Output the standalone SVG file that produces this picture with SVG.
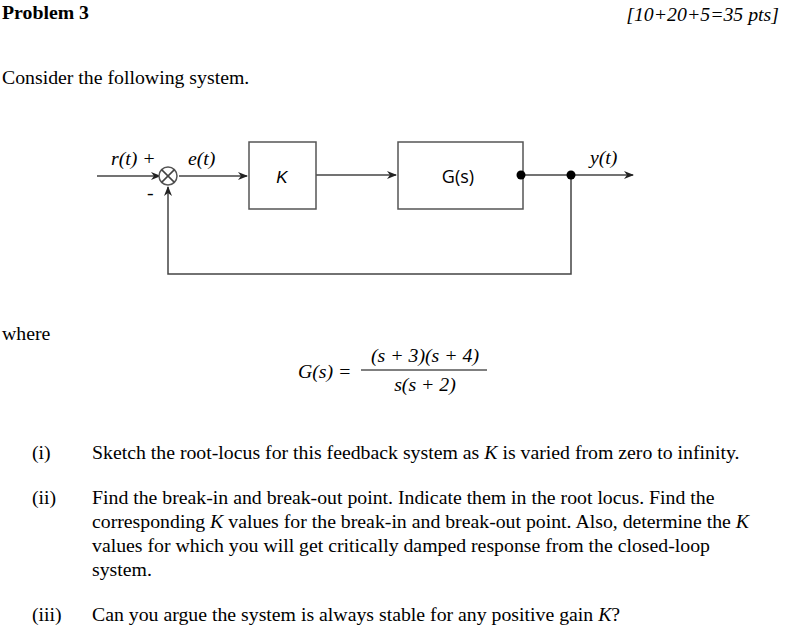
<svg xmlns="http://www.w3.org/2000/svg" width="786" height="632" viewBox="0 0 786 632">
<defs><marker id="a" markerWidth="10" markerHeight="8" refX="9" refY="4" orient="auto" markerUnits="userSpaceOnUse"><path d="M0,0 L10,4 L0,8 L3,4 Z" fill="#222"/></marker></defs>
<style>
.t{font-family:"Liberation Serif",serif;font-size:19.8px;fill:#000}
.i{font-style:italic}
.l{stroke:#444;stroke-width:1.5;fill:none}
.b{stroke:#555;stroke-width:1.5;fill:#fff}
</style>
<rect width="786" height="632" fill="#fff"/>
<text class="t" x="2" y="19" font-weight="bold">Problem 3</text>
<text class="t i" x="779" y="21" text-anchor="end" font-size="17">[10+20+5=35 pts]</text>
<text class="t" x="2" y="84">Consider the following system.</text>
<g id="connectors">
<path class="l" d="M97,176 H160" marker-end="url(#a)"/>
<path class="l" d="M179,176 H247" marker-end="url(#a)"/>
<path class="l" d="M316,175 H396" marker-end="url(#a)"/>
<path class="l" d="M523,175 H633" marker-end="url(#a)"/>
<path class="l" d="M571,175 V274 H168 V187" marker-end="url(#a)"/>
</g>
<g id="sum"><circle cx="168" cy="176" r="9" class="b"/><path class="l" d="M161.6,169.6 L174.4,182.4 M174.4,169.6 L161.6,182.4"/></g>
<g id="K"><rect x="249" y="142" width="67" height="67" class="b"/><text x="282" y="183" text-anchor="middle" font-family="Liberation Sans,sans-serif" font-style="italic" font-size="17">K</text></g>
<g id="G"><rect x="398" y="142" width="125" height="67" class="b"/><text x="458" y="183" text-anchor="middle" font-family="Open Sans,sans-serif" font-size="18">G(s)</text></g>
<circle cx="521" cy="175" r="4.5" fill="#000"/><circle cx="571" cy="175" r="4.5" fill="#000"/>
<text class="t i" x="111" y="165" font-size="16.5">r(t) +</text>
<text class="t i" x="188" y="165" font-size="16.5">e(t)</text>
<text class="t" x="147" y="199" font-size="16">-</text>
<text class="t i" x="590" y="164" font-size="16.5">y(t)</text>
<text class="t" x="2" y="340">where</text>
<text class="t i" x="298" y="378" font-size="20.5">G(s) =</text>
<text class="t i" x="425" y="362" text-anchor="middle" font-size="20.5">(s + 3)(s + 4)</text>
<line x1="361" y1="370" x2="487" y2="370" stroke="#000" stroke-width="1"/>
<text class="t i" x="425" y="391" text-anchor="middle" font-size="20.5">s(s + 2)</text>
<text class="t" x="32" y="459">(i)</text>
<text class="t" x="92" y="459">Sketch the root-locus for this feedback system as <tspan class="i">K</tspan> is varied from zero to infinity.</text>
<text class="t" x="32" y="504">(ii)</text>
<text class="t" x="92" y="504">Find the break-in and break-out point. Indicate them in the root locus. Find the</text>
<text class="t" x="92" y="528">corresponding <tspan class="i">K</tspan> values for the break-in and break-out point. Also, determine the <tspan class="i">K</tspan></text>
<text class="t" x="92" y="552">values for which you will get critically damped response from the closed-loop</text>
<text class="t" x="92" y="576">system.</text>
<text class="t" x="32" y="621">(iii)</text>
<text class="t" x="92" y="621">Can you argue the system is always stable for any positive gain <tspan class="i">K</tspan>?</text>
</svg>
